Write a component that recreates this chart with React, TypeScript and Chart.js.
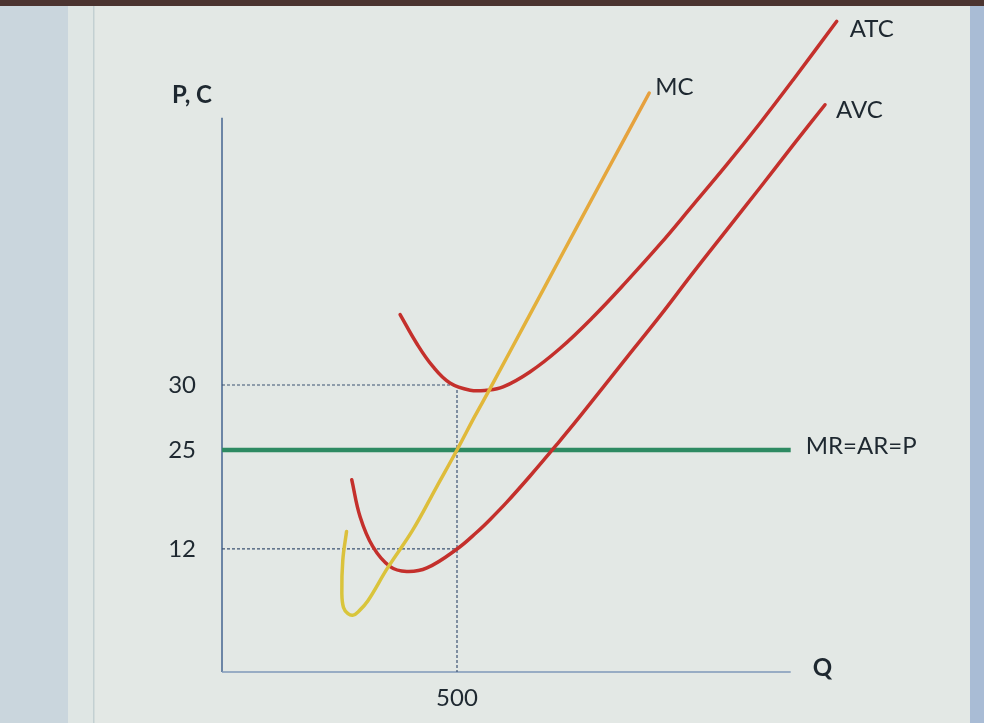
import React, { useEffect, useRef } from 'react';
import { Chart, LinearScale, registerables } from 'chart.js';

Chart.register(...registerables);

// ---------------- data ----------------
const Y_TICKS = [12, 25, 30];
const X_TICKS = [500];
const PRICE = 25; // MR = AR = P
const Q_STAR = 500;
const ATC_AT_Q_STAR = 30;
const AVC_AT_Q_STAR = 12;
const Q_AXIS_END = 1210;
const P_AXIS_TOP = 50.5;

const MC_Q = [265, 257, 255, 258.5, 268, 279, 291.5, 310.5, 353, 406, 457, 500, 538, 570, 655, 719, 804, 909];
const MC_V = [14.3, 10.9, 7.7, 6.3, 5.7, 5.55, 5.95, 6.95, 10.2, 14.5, 20.2, 25, 27.6, 29.7, 35.4, 39.7, 45.4, 52.4];

const ATC_Q = [379, 414, 449, 485, 528, 563, 598, 655, 719, 789, 861, 932, 1002, 1074, 1145, 1215, 1308];
const ATC_V = [35.4, 33.2, 31.4, 30.15, 29.6, 29.6, 29.85, 31.0, 32.8, 35.2, 37.95, 40.8, 43.8, 46.9, 50.1, 53.4, 57.9];

const AVC_Q = [276, 294, 321, 357, 393, 436, 500, 542, 570, 606, 655, 713, 762, 861, 932, 1002, 1074, 1145, 1215, 1283];
const AVC_V = [21.1, 16.2, 12.3, 10.3, 9.8, 10.15, 12, 14.2, 15.85, 18.15, 21.55, 25.45, 27.6, 32.1, 35.3, 38.6, 41.9, 45.15, 48.4, 51.5];

// ---------------- schematic (not-to-scale) price axis ----------------
// The drawing's price axis is not linear: these are the relative heights of its labelled levels.
const Y_BREAK_VALUES = [0, 12, 25, 30, 58];
const Y_BREAK_FRACTIONS = [0, 0.1887, 0.3405, 0.4402, 1];

function valueToFraction(v: number): number {
  const b = Y_BREAK_VALUES, f = Y_BREAK_FRACTIONS;
  let i = 0;
  while (i < b.length - 2 && v > b[i + 1]) i++;
  return f[i] + ((v - b[i]) / (b[i + 1] - b[i])) * (f[i + 1] - f[i]);
}
function fractionToValue(d: number): number {
  const b = Y_BREAK_VALUES, f = Y_BREAK_FRACTIONS;
  let i = 0;
  while (i < f.length - 2 && d > f[i + 1]) i++;
  return b[i] + ((d - f[i]) / (f[i + 1] - f[i])) * (b[i + 1] - b[i]);
}

class SchematicScale extends LinearScale {
  static id = 'schematic';
  static defaults = LinearScale.defaults;
  getPixelForValue(value: number) {
    return this.getPixelForDecimal(valueToFraction(value));
  }
  getValueForPixel(pixel: number) {
    return fractionToValue(this.getDecimalForPixel(pixel));
  }
}
Chart.register(SchematicScale as any);

// ---------------- styles ----------------
const FONT = 'Lato, "Open Sans", sans-serif';
const TEXT = '#1e2830';
const RED = '#c4302c';
const GREEN = '#2e8a62';
const GUIDE = '#3c5272';

const pts = (qs: number[], vs: number[]) => qs.map((q, i) => ({ x: q, y: vs[i] }));

const backgroundPlugin = {
  id: 'photoBackground',
  beforeDraw(chart: any) {
    const { ctx, width, height } = chart;
    ctx.save();
    ctx.fillStyle = '#e3e8e5';
    ctx.fillRect(0, 0, width, height);
    ctx.fillStyle = '#cad6dd';
    ctx.fillRect(0, 0, 68, height);
    ctx.fillStyle = '#dfe6e4';
    ctx.fillRect(68, 0, 25, height);
    ctx.fillStyle = '#c3d0d2';
    ctx.fillRect(93, 0, 1.5, height);
    ctx.fillStyle = '#a9bcd5';
    ctx.fillRect(970, 0, width - 970, height);
    ctx.fillStyle = '#4b3430';
    ctx.fillRect(0, 0, width, 6);
    ctx.restore();
  },
};

const axesPlugin = {
  id: 'axesLines',
  beforeDatasetsDraw(chart: any) {
    const { ctx, scales: { x, y } } = chart;
    const x0 = x.getPixelForValue(0);
    const y0 = y.getPixelForValue(0);
    ctx.save();
    ctx.lineWidth = 1.5;
    ctx.strokeStyle = '#45658f';
    ctx.beginPath();
    ctx.moveTo(x0, y.getPixelForValue(P_AXIS_TOP));
    ctx.lineTo(x0, y0);
    ctx.stroke();
    ctx.strokeStyle = '#7f99b8';
    ctx.beginPath();
    ctx.moveTo(x0, y0);
    ctx.lineTo(x.getPixelForValue(Q_AXIS_END), y0);
    ctx.stroke();
    ctx.restore();
  },
};

const labelsPlugin = {
  id: 'curveLabels',
  afterDraw(chart: any) {
    const { ctx, scales: { x, y } } = chart;
    const last = (qs: number[], vs: number[]) => [
      x.getPixelForValue(qs[qs.length - 1]),
      y.getPixelForValue(vs[vs.length - 1]),
    ];
    ctx.save();
    ctx.fillStyle = TEXT;
    ctx.textBaseline = 'middle';
    ctx.textAlign = 'left';
    ctx.font = `24px ${FONT}`;
    let [px, py] = last(ATC_Q, ATC_V);
    ctx.fillText('ATC', px + 13, py + 8);
    [px, py] = last(AVC_Q, AVC_V);
    ctx.fillText('AVC', px + 11, py + 6);
    [px, py] = last(MC_Q, MC_V);
    ctx.fillText('MC', px + 6, py - 6);
    const mrX = x.getPixelForValue(Q_AXIS_END);
    const mrY = y.getPixelForValue(PRICE);
    ctx.fillText('MR=AR=P', mrX + 15, mrY - 4);
    ctx.font = `bold 24px ${FONT}`;
    ctx.fillText('Q', mrX + 22, y.getPixelForValue(0) - 4);
    ctx.textAlign = 'right';
    ctx.fillText('P, C', x.getPixelForValue(0) - 10, y.getPixelForValue(P_AXIS_TOP) - 22);
    ctx.restore();
  },
};

export default function App() {
  const canvasRef = useRef<HTMLCanvasElement | null>(null);

  useEffect(() => {
    document.body.style.margin = '0';
    const canvas = canvasRef.current;
    if (!canvas) return;

    const mcGradient = (context: any) => {
      const { chart } = context;
      const { ctx, scales, chartArea } = chart;
      if (!chartArea || !scales || !scales.y) return '#e0ac3c';
      const y1 = scales.y.getPixelForValue(5);
      const y2 = scales.y.getPixelForValue(52);
      if (!isFinite(y1) || !isFinite(y2) || y1 === y2) return '#e0ac3c';
      const g = ctx.createLinearGradient(0, y1, 0, y2);
      g.addColorStop(0, '#d8c63c');
      g.addColorStop(0.45, '#e2b63a');
      g.addColorStop(1, '#e6a03e');
      return g;
    };

    const curve = (label: string, data: any[], color: any) => ({
      label,
      data,
      borderColor: color,
      borderWidth: 3.5,
      tension: 0.4,
      pointRadius: 0,
      clip: false,
      borderCapStyle: 'round',
      borderJoinStyle: 'round',
    });

    const chart = new Chart(canvas, {
      type: 'line',
      data: {
        datasets: [
          curve('MC', pts(MC_Q, MC_V), mcGradient),
          curve('ATC', pts(ATC_Q, ATC_V), RED),
          curve('AVC', pts(AVC_Q, AVC_V), RED),
          {
            label: 'MR=AR=P',
            data: [
              { x: 0, y: PRICE },
              { x: Q_AXIS_END, y: PRICE },
            ],
            borderColor: GREEN,
            borderWidth: 4.5,
            pointRadius: 0,
            clip: false,
          },
          {
            label: 'ATC at Q*',
            data: [
              { x: 0, y: ATC_AT_Q_STAR },
              { x: Q_STAR, y: ATC_AT_Q_STAR },
              { x: Q_STAR, y: 0 },
            ],
            borderColor: GUIDE,
            borderWidth: 1.2,
            borderDash: [3, 2],
            pointRadius: 0,
            tension: 0,
          },
          {
            label: 'AVC at Q*',
            data: [
              { x: 0, y: AVC_AT_Q_STAR },
              { x: Q_STAR, y: AVC_AT_Q_STAR },
            ],
            borderColor: GUIDE,
            borderWidth: 1.2,
            borderDash: [3, 2],
            pointRadius: 0,
            tension: 0,
          },
        ],
      },
      options: {
        animation: false,
        responsive: false,
        devicePixelRatio: 1,
        events: [],
        layout: { padding: { top: 20, right: 104, left: 0, bottom: 0 } },
        plugins: { legend: { display: false }, tooltip: { enabled: false } },
        scales: {
          x: {
            type: 'linear',
            min: 0,
            max: 1400,
            grid: { display: false, drawTicks: false },
            border: { display: false },
            afterFit: (s: any) => {
              s.height = 51;
              s.paddingLeft = 0;
              s.paddingRight = 0;
            },
            afterBuildTicks: (s: any) => {
              s.ticks = X_TICKS.map((v) => ({ value: v }));
            },
            ticks: {
              autoSkip: false,
              maxRotation: 0,
              padding: 12,
              color: TEXT,
              font: { family: FONT, size: 24 },
              callback: (v: any) => String(v),
            },
          },
          y: {
            type: 'schematic' as any,
            min: 0,
            max: 58,
            grid: { display: false, drawTicks: false },
            border: { display: false },
            afterFit: (s: any) => {
              s.width = 222;
              s.paddingTop = 0;
              s.paddingBottom = 0;
            },
            afterBuildTicks: (s: any) => {
              s.ticks = Y_TICKS.map((v) => ({ value: v }));
            },
            ticks: {
              autoSkip: false,
              padding: 26,
              color: TEXT,
              font: { family: FONT, size: 24 },
              callback: (v: any) => String(v),
            },
          },
        },
      },
      plugins: [backgroundPlugin, axesPlugin, labelsPlugin],
    } as any);

    return () => chart.destroy();
  }, []);

  return (
    <div style={{ width: 984, height: 723 }}>
      <canvas ref={canvasRef} width={984} height={723} style={{ display: 'block' }} />
    </div>
  );
}
